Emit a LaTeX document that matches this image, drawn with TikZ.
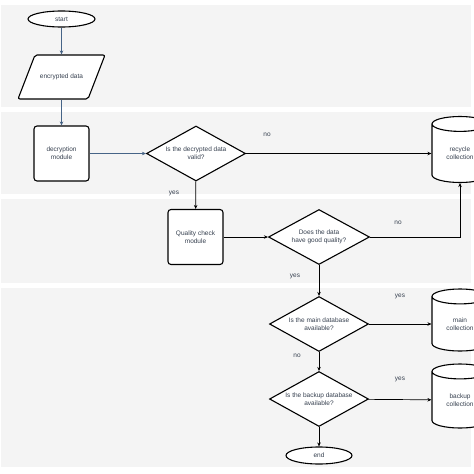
\documentclass[tikz,border=0pt]{standalone}
\usepackage{fontspec}
\setmainfont{Liberation Sans}
\usetikzlibrary{arrows.meta,shapes.geometric}

\definecolor{bandgray}{RGB}{244,244,244}
\definecolor{txtgray}{RGB}{55,65,80}
\definecolor{linkblue}{RGB}{70,100,135}

\tikzset{
  base/.style={draw, line width=1.1pt, fill=white, align=center, inner sep=0pt,
    font=\fontsize{6.5}{8}\selectfont, text=txtgray},
  term/.style={base, ellipse, minimum width=67pt, minimum height=16pt},
  io/.style={base, draw=none, fill=none, rectangle, minimum width=70pt, minimum height=44pt},
  proc/.style={base, rectangle, rounded corners=3pt, minimum width=55pt, minimum height=55pt},
  decide/.style={base, diamond, aspect=1.8, minimum width=99pt, minimum height=55pt},
  store/.style={base, cylinder, shape border rotate=90, aspect=0.55,
    minimum width=56pt, minimum height=66pt},
  lbl/.style={inner sep=0pt, font=\fontsize{6.5}{8}\selectfont, text=txtgray},
  link/.style={-{Stealth[length=4pt,width=3.5pt]}, line width=0.7pt}
}

\begin{document}
\begin{tikzpicture}[x=1pt, y=-1pt]
  \useasboundingbox (0,0) rectangle (474,474);
  \fill[bandgray] (1,5) rectangle (471,107);
  \fill[bandgray] (1,112) rectangle (471,194);
  \fill[bandgray] (1,199) rectangle (471,283);
  \fill[bandgray] (1,288) rectangle (471,467);

  \node[term] (start) at (61.5,19) {start};
  \draw[line width=1.1pt, fill=white, rounded corners=2pt]
    (18,99) -- (35,55) -- (105,55) -- (88,99) -- cycle;
  \node[io] (enc) at (61.5,77) {encrypted data};
  \node[proc] (dec) at (61.5,153.5) {decryption\\module};
  \node[decide] (valid) at (196,153.5) {Is the decrypted data\\valid?};
  \node[store] (recycle) at (460,153.5) {recycle\\collection};
  \node[proc] (qual) at (195.5,237) {Quality check\\module};
  \node[decide, minimum width=101pt] (good) at (319,237) {Does the data\\have good quality?};
  \node[decide] (maindb) at (319,324) {Is the main database\\available?};
  \node[store, minimum height=62pt] (main) at (460,324) {main\\collection};
  \node[decide] (backupdb) at (319,399) {Is the backup database\\available?};
  \node[store, minimum height=64pt] (backup) at (460,400) {backup\\collection};
  \node[term, minimum width=66pt, minimum height=17pt] (end) at (319,455.5) {end};

  \node[lbl] (no1) at (267,135) {no};
  \node[lbl] (yes1) at (174,193) {yes};
  \node[lbl] (no2) at (398,223) {no};
  \node[lbl] (yes2) at (295,276) {yes};
  \node[lbl] (yes3) at (400,296) {yes};
  \node[lbl] (no3) at (297,356) {no};
  \node[lbl] (yes4) at (400,379) {yes};

  \path[link, draw=linkblue]
  (start) edge (enc)
  (enc) edge (dec)
  (dec) edge (valid)
  ;
  \path[link]
  (valid) edge (recycle)
  (valid) edge (qual)
  (qual) edge (good)
  (good) edge (maindb)
  (maindb) edge (main)
  (maindb) edge (backupdb)
  (backupdb) edge (backup)
  (backupdb) edge (end)
  ;
  \draw[link] (good.east) -| (recycle.south);
\end{tikzpicture}
\end{document}
